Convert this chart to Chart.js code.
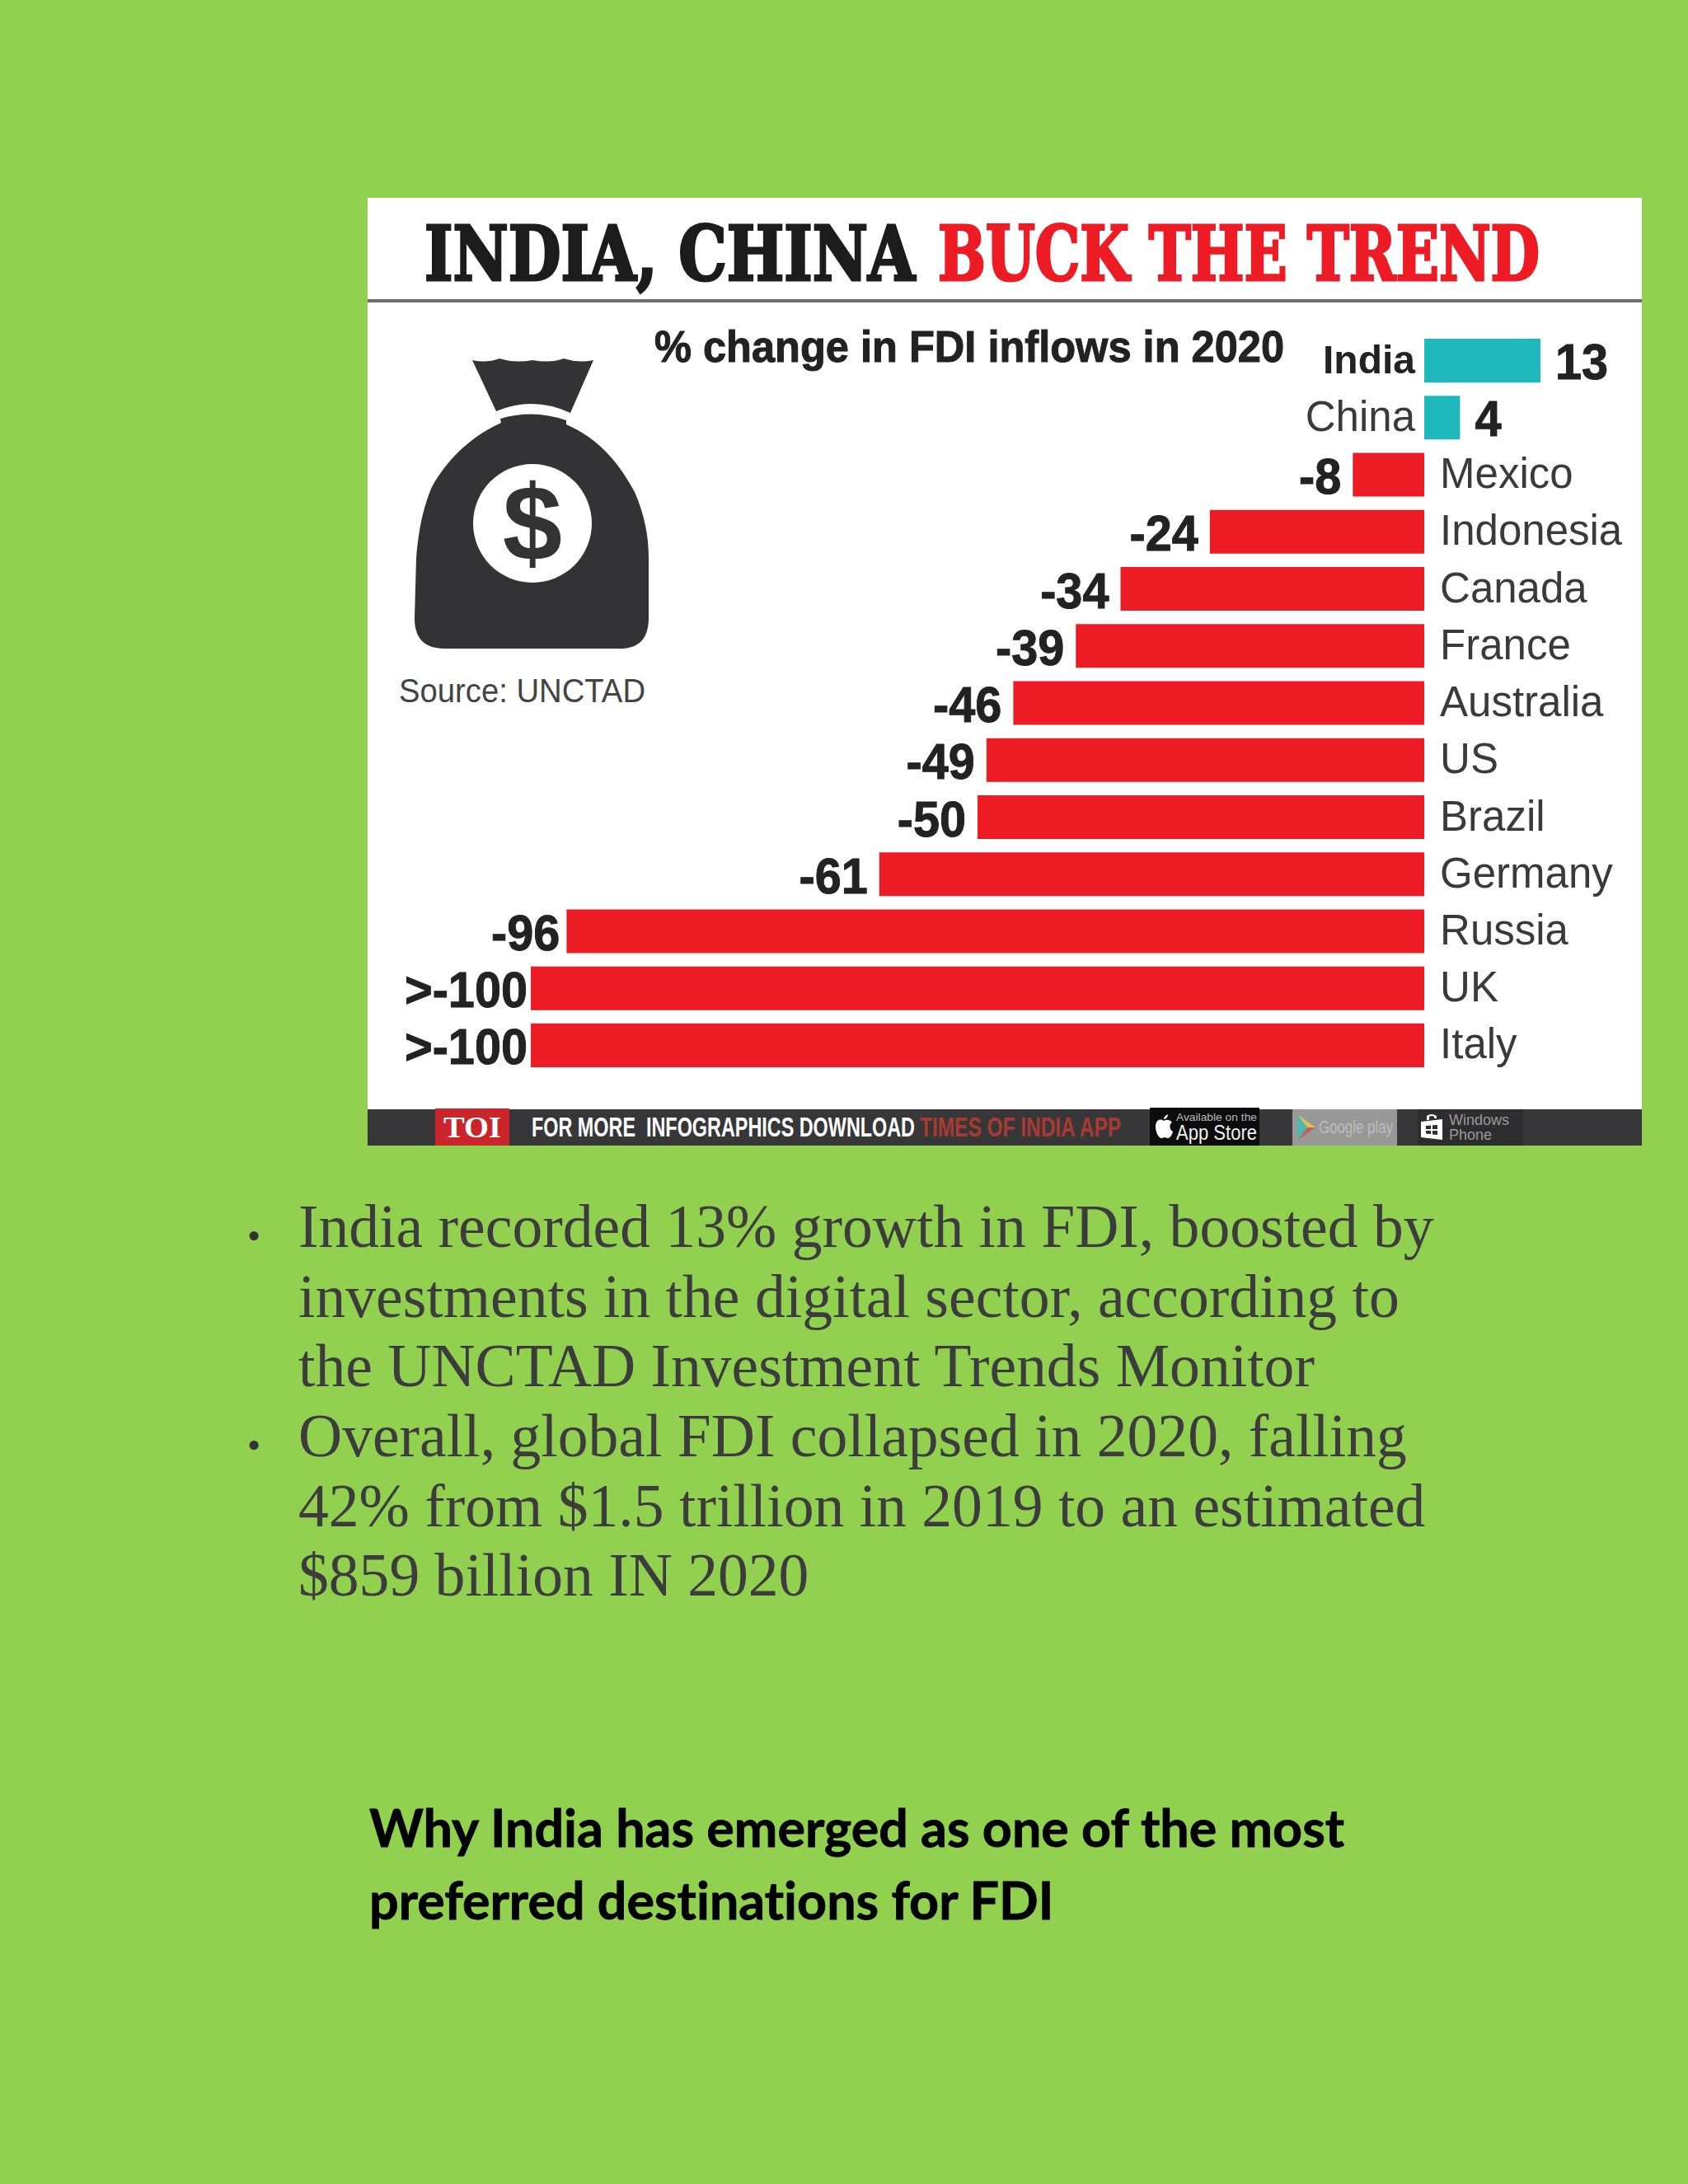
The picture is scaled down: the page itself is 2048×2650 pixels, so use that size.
<!DOCTYPE html>
<html>
  <head>
    <title>India, China buck the trend</title>
    <meta http-equiv="Content-Type" content="text/html;charset=utf-8" />
    <script src="https://cdn.jsdelivr.net/npm/chart.js@4/dist/chart.umd.min.js"></script>
    <style>
      html, body { margin: 0; padding: 0; }
      body { position: relative; width: 2048px; height: 2650px; background: #92d050; overflow: hidden; }
      .abs { position: absolute; white-space: nowrap; transform-origin: left center; }
      #panel { position: absolute; left: 446px; top: 240px; width: 1546px; height: 1150px; background: #fff; }
      #rule { position: absolute; left: 446px; top: 363px; width: 1546px; height: 4px; background: #6e6e6e; }
      #footer { position: absolute; left: 446px; top: 1346px; width: 1546px; height: 44px; background: #37373a; }
      .head { font: bold 92px "DejaVu Serif Condensed", "DejaVu Serif", serif; line-height: 92px; -webkit-text-stroke: 3px currentColor; }
      .foot { font: bold 33px "Liberation Sans", sans-serif; line-height: 33px; }
      .para { font: 73.6px/84.5px "Liberation Serif", serif; color: #3c3c3c; }
      .bullet { font: 46px/46px "Liberation Serif", serif; color: #333; }
      .why { font: bold 62.8px/88px Lato, sans-serif; color: #000; font-variant-ligatures: none; -webkit-text-stroke: 0.8px #000; }
      canvas { position: absolute; left: 446px; top: 403px; }
    </style>
  </head>
  <body>
    <div id="panel"></div>
    <div id="rule"></div>

    <div class="abs head" data-w="595" style="left:515px;top:262px;color:#1c1c1c">INDIA, CHINA</div>
    <div class="abs head" data-w="730" style="left:1138px;top:262px;color:#ed1c24">BUCK THE TREND</div>
    <div class="abs" data-w="764" style="left:794px;top:393px;font:bold 54px/54px 'Liberation Sans',sans-serif;color:#222;-webkit-text-stroke:1px #222">% change in FDI inflows in 2020</div>

    <svg class="abs" style="left:502px;top:431px" width="286" height="358" viewBox="502 431 286 358">
      <path fill="#333335" d="M573,437 Q590,441 606,435 Q625,441 646,437 Q668,441 684,435 Q702,441 720,437 L692,501 Q647,480 602,499 Z" />
      <path fill="#333335" d="M607,508 Q647,496 687,510 L687,515 C733,535 755,570 770,597 C782,625 787,650 787,677 L787,750 C787,775 775,787 752,787 L540,787 C515,787 503,775 503,750 L505,677 C507,650 512,620 523,593 C535,570 560,535 608,513 Z" />
      <circle cx="646" cy="635" r="72" fill="#fff" />
      <text x="646" y="679" text-anchor="middle" font-family="Liberation Sans" font-weight="bold" font-size="130" fill="#333335">$</text>
    </svg>
    <div class="abs" data-w="299" style="left:484px;top:818px;font:40px/40px 'Liberation Sans',sans-serif;color:#444">Source: UNCTAD</div>

    <canvas id="fdiChart" width="1546" height="900"></canvas>

    <div id="footer"></div>
    <div class="abs" style="left:528px;top:1345px;width:90px;height:45px;background:#c9252b"></div>
    <div class="abs" data-w="70" style="left:538px;top:1350px;font:bold 36px/36px 'Liberation Serif',serif;color:#fff">TOI</div>
    <div class="abs foot" data-w="465" style="left:645px;top:1351px;color:#fff">FOR MORE &nbsp;INFOGRAPHICS DOWNLOAD</div>
    <div class="abs foot" data-w="244" style="left:1116px;top:1351px;color:#a83a30">TIMES OF INDIA APP</div>
    <div class="abs" style="left:1395px;top:1344px;width:133px;height:46px;background:#0c0c0c"></div>
    <svg class="abs" style="left:1400px;top:1352px" width="24" height="30" viewBox="0 0 24 30">
      <path fill="#fff" d="M12,8 C9,5 2,6 2,15 C2,22 6,29 9,29 C11,29 12,28 13,28 C14,28 15,29 17,29 C20,29 23,23 23,21 C19,19 18,12 22,10 C19,6 15,6 12,8 Z M12,6 C12,3 15,1 17,0 C17,3 15,6 12,6 Z" />
    </svg>
    <div class="abs" data-w="98" style="left:1427px;top:1349px;font:13px/13px 'Liberation Sans',sans-serif;color:#bbb">Available on the</div>
    <div class="abs" data-w="98" style="left:1427px;top:1361px;font:26px/26px 'Liberation Sans',sans-serif;color:#eee">App Store</div>
    <div class="abs" style="left:1568px;top:1346px;width:127px;height:44px;background:#989898"></div>
    <svg class="abs" style="left:1572px;top:1352px" width="24" height="32" viewBox="0 0 24 32">
      <path fill="#4fb8b0" d="M2,0 L14,16 L2,32 Z" /><path fill="#d9c25a" d="M2,0 L24,16 L14,16 Z" /><path fill="#c8605a" d="M2,32 L24,16 L14,16 Z" />
    </svg>
    <div class="abs" data-w="90" style="left:1600px;top:1357px;font:22px/22px 'Liberation Sans',sans-serif;color:#bdbdbd">Google play</div>
    <div class="abs" style="left:1720px;top:1346px;width:128px;height:44px;background:#2d2d2f"></div>
    <svg class="abs" style="left:1722px;top:1350px" width="30" height="34" viewBox="0 0 30 34">
      <path fill="#fff" d="M2,11 L28,8 L28,33 L2,30 Z M9,9 L9,4 Q15,0 21,4 L21,7 L18,7 L18,5 Q15,3 12,5 L12,9 Z" />
      <path fill="#2d2d2f" d="M8,16 L14,15.5 L14,20 L8,20 Z M16,15.3 L22,15 L22,20 L16,20 Z M8,22 L14,22 L14,26 L8,25.5 Z M16,22 L22,22 L22,27 L16,26.4 Z" />
    </svg>
    <div class="abs" style="left:1758px;top:1350px;font:18px/18px 'Liberation Sans',sans-serif;color:#9a9a9a">Windows<br />Phone</div>

    <div class="abs bullet" style="left:300px;top:1477px">•</div>
    <div class="abs para" style="left:362px;top:1446px">India recorded 13% growth in FDI, boosted by<br />investments in the digital sector, according to<br />the UNCTAD Investment Trends Monitor</div>
    <div class="abs bullet" style="left:300px;top:1731px">•</div>
    <div class="abs para" style="left:362px;top:1700px">Overall, global FDI collapsed in 2020, falling<br />42% from $1.5 trillion in 2019 to an estimated<br />$859 billion IN 2020</div>

    <div class="abs why" style="left:448px;top:2173px">Why India has emerged as one of the most<br />preferred destinations for FDI</div>

    <script>
      var categories = ["India", "China", "Mexico", "Indonesia", "Canada", "France", "Australia", "US", "Brazil", "Germany", "Russia", "UK", "Italy"];
      var fdiChange = [13, 4, -8, -24, -34, -39, -46, -49, -50, -61, -96, -100, -100];
      var valueLabels = ["13", "4", "-8", "-24", "-34", "-39", "-46", "-49", "-50", "-61", "-96", ">-100", ">-100"];
      var boldCategories = ["India"];

      // squeeze the text blocks to the measured width of the original
      document.querySelectorAll("[data-w]").forEach(function (el) {
        var k = Number(el.dataset.w) / el.getBoundingClientRect().width;
        el.style.transform = "scaleX(" + k + ")";
      });

      function drawValue(ctx, text, x, y) {
        // value labels are narrower and taller than the plain bold font
        ctx.save();
        ctx.translate(x, y);
        ctx.scale(0.93, 1);
        ctx.font = "bold 62px 'Liberation Sans', sans-serif";
        ctx.fillStyle = "#222";
        ctx.strokeStyle = "#222";
        ctx.lineWidth = 1;
        ctx.fillText(text, 0, 0);
        ctx.strokeText(text, 0, 0);
        ctx.restore();
      }

      var barLabels = {
        id: "barLabels",
        afterDatasetsDraw: function (chart) {
          var ctx = chart.ctx;
          var x = chart.scales.x;
          var y = chart.scales.y;
          var zero = x.getPixelForValue(0);
          ctx.save();
          ctx.textBaseline = "middle";
          categories.forEach(function (name, i) {
            var v = fdiChange[i];
            var end = x.getPixelForValue(v);
            var mid = y.getPixelForValue(i);
            if (v < 0) {
              ctx.textAlign = "right";
              var gap = v <= -100 ? 4 : v < -90 ? 8 : 14;
              drawValue(ctx, valueLabels[i], end - gap, mid + 6);
            } else {
              ctx.textAlign = "left";
              drawValue(ctx, valueLabels[i], end + 18, mid + 5);
            }
            var isBold = boldCategories.indexOf(name) >= 0;
            ctx.font = (isBold ? "bold 48px" : "51px") + " 'Liberation Sans', sans-serif";
            ctx.fillStyle = isBold ? "#222" : "#3a3a3a";
            ctx.textAlign = v < 0 ? "left" : "right";
            ctx.fillText(name, v < 0 ? zero + 19 : zero - 11, mid + 2);
          });
          ctx.restore();
        },
      };

      new Chart(document.getElementById("fdiChart").getContext("2d"), {
        type: "bar",
        data: {
          labels: categories,
          datasets: [
            {
              label: "% change in FDI inflows in 2020",
              data: fdiChange,
              backgroundColor: function (c) {
                return c.raw < 0 ? "#ed1c24" : "#1fb9bd";
              },
              barPercentage: 0.766,
              categoryPercentage: 1,
            },
          ],
        },
        options: {
          indexAxis: "y",
          responsive: false,
          animation: false,
          devicePixelRatio: 1,
          layout: { padding: 0 },
          plugins: { legend: { display: false }, title: { display: false }, tooltip: { enabled: false } },
          scales: {
            x: { display: false, min: -118.27, max: 24.35, grid: { display: false } },
            y: { display: false, grid: { display: false } },
          },
        },
        plugins: [barLabels],
      });
    </script>
  </body>
</html>
